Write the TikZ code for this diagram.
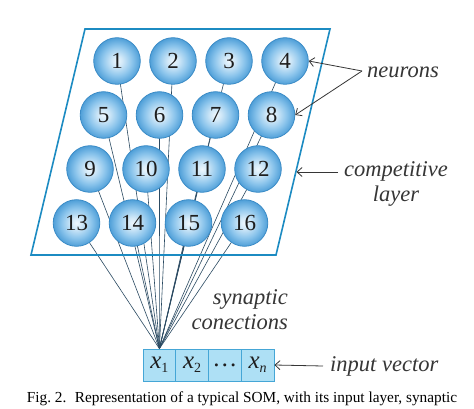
\documentclass[tikz,border=0pt]{standalone}
\usepackage{fontspec}
\setmainfont{Liberation Serif}
\usetikzlibrary{arrows.meta}
\definecolor{layerblue}{HTML}{1C8BC2}
\definecolor{nin}{HTML}{EEF7FD}
\definecolor{nmid}{HTML}{8CC5EC}
\definecolor{nout}{HTML}{4F9FD8}
\definecolor{nedge}{HTML}{3A8BC6}
\definecolor{synline}{HTML}{2B4A62}
\definecolor{boxfill}{HTML}{AEE0F5}
\definecolor{boxedge}{HTML}{45A6D6}
\definecolor{lbltext}{HTML}{363636}
\definecolor{numtext}{HTML}{1E1E1E}
\pgfdeclareradialshading{nball}{\pgfpoint{0bp}{0bp}}{color(0bp)=(nin); color(6bp)=(nin!70!nmid); color(16bp)=(nmid); color(25bp)=(nout); color(50bp)=(nout)}
\pgfdeclarelayer{bg}
\pgfsetlayers{bg,main}
\newcommand{\xsub}[1]{{\itshape x}{\fontsize{14}{14}\selectfont\raisebox{-4.5pt}{#1}}}
\begin{document}
\begin{tikzpicture}[x=1pt,y=-1pt,
  layerframe/.style={draw=layerblue, line width=1.6pt, line join=miter},
  neuron/.style={circle, minimum size=46.6pt, inner sep=0pt, draw=nedge, line width=0.8pt, shading=nball, text=numtext, font=\fontsize{23}{23}\selectfont},
  syn/.style={draw=synline, line width=0.6pt},
  inbox/.style={rectangle, minimum width=32.75pt, minimum height=32pt, inner sep=0pt, fill=boxfill, draw=boxedge, line width=0.8pt, text=numtext, font=\fontsize{25}{25}\selectfont},
  lbl/.style={text=lbltext, inner sep=0pt, font=\fontsize{22.5}{25}\selectfont\itshape},
  arr/.style={draw=lbltext, line width=0.8pt, -{Straight Barb[length=5pt,width=9pt]}}]
\useasboundingbox (0,0) rectangle (474,409);
\begin{pgfonlayer}{bg}
\fill[white] (0,0) rectangle (474,409);
\end{pgfonlayer}
% competitive layer frame
\coordinate (L1) at (85,29);
\coordinate (L2) at (330,29);
\coordinate (L3) at (276,255);
\coordinate (L4) at (31,255);
\draw[layerframe] (L1) -- (L2) -- (L3) -- (L4) -- cycle;
% neurons
\foreach \r in {0,...,3}{
  \foreach \c in {0,...,3}{
    \pgfmathtruncatemacro\k{4*\r+\c+1}
    \node[neuron] (n\k) at ({117+56*\c-13.5*\r},{61+54*\r}) {\k};
  }
}
% input vector
\node[inbox] (x1) at (159.4,365) {\xsub{1}};
\node[inbox] (x2) at (192.15,365) {\xsub{2}};
\node[inbox] (x3) at (224.9,365) {\ldots};
\node[inbox] (xn) at (257.65,365) {\xsub{\itshape n}};
% synaptic connections
\begin{pgfonlayer}{bg}
\foreach \k in {1,...,16}{
  \draw[syn] (n\k.center) -- (x1.north);
}
\end{pgfonlayer}
% labels
\node[lbl, anchor=west] (neu) at (367,72) {neurons};
\coordinate (nj) at (362,71);
\draw[arr] (nj) -- (n4.east);
\draw[arr] (nj) -- (n8.east);
\node[lbl, align=center] (comp) at (396,184) {competitive\\layer};
\coordinate (compstart) at (338,172);
\coordinate (ledge) at (296.5,172);
\draw[arr] (compstart) -- (ledge);
\node[lbl, align=right, anchor=east] (syntxt) at (288,310) {synaptic\\conections};
\node[lbl, anchor=west] (iv) at (330,366) {input vector};
\draw[arr] ([xshift=-7pt]iv.west) -- (xn.east);
\node[text=black, inner sep=0pt, anchor=base, font=\fontsize{15.3}{16}\selectfont] (cap) at (242,402) {Fig.~2.\hspace{0.55em}Representation of a typical SOM, with its input layer, synaptic};
\end{tikzpicture}
\end{document}
